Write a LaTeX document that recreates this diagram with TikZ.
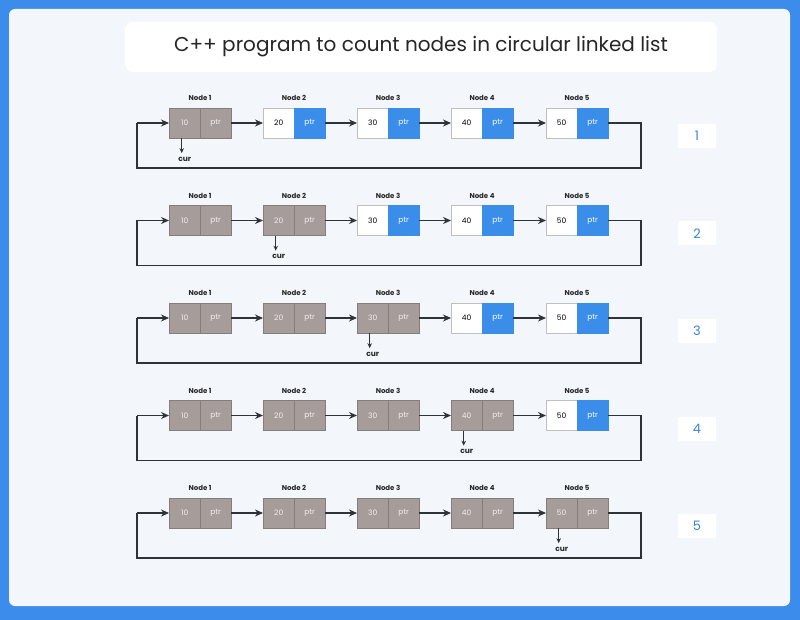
\documentclass[tikz,border=0pt]{standalone}
\usepackage{fontspec}
\setmainfont{Poppins}
\usetikzlibrary{arrows.meta}
\definecolor{frame}{HTML}{3B8CEB}
\definecolor{panel}{HTML}{F3F6FB}
\definecolor{graycell}{HTML}{A69C99}
\definecolor{bluecell}{HTML}{3A8DE8}
\definecolor{linec}{HTML}{2E3338}
\definecolor{numc}{HTML}{3A86D0}
\tikzset{
  cell/.style={minimum width=31pt,minimum height=30pt,inner sep=0pt,font=\fontsize{7.5}{8}\selectfont},
  wcell/.style={cell,fill=white,draw=black!25,text=black},
  gcell/.style={cell,fill=graycell,draw=graycell!80!black,text=white!85!graycell},
  bcell/.style={cell,fill=bluecell,draw=bluecell,text=white},
  lbl/.style={font=\fontsize{7}{8}\selectfont\bfseries,text=black!85},
  conn/.style={draw=linec,line width=1.1pt,-{Stealth[length=8pt,width=7pt]}},
  loopl/.style={draw=linec,line width=1.1pt},
  numbox/.style={fill=white,minimum width=38pt,minimum height=24pt,font=\fontsize{13}{14}\selectfont,text=numc},
}
\begin{document}
\begin{tikzpicture}[x=1pt,y=-1pt]
\useasboundingbox (0,0) rectangle (800,620);
\fill[frame] (0,0) rectangle (800,620);
\fill[panel,rounded corners=6pt] (9,9) rectangle (790,606);
\node[fill=white,rounded corners=8pt,minimum width=592pt,minimum height=50pt,font=\fontsize{20}{22}\selectfont,text=black!85] (title) at (421,47) {C++ program to count nodes in circular linked list};
\foreach \r in {0,...,4}{
  \pgfmathsetmacro{\yc}{123+\r*97.5}
  \foreach \i/\v/\xl in {1/10/169,2/20/263,3/30/357,4/40/451,5/50/546}{
    \pgfmathtruncatemacro{\g}{\i<=\r+1 ? 1 : 0}
    \ifnum\g=1
      \node[gcell,anchor=west] (d\r\i) at (\xl,\yc) {\v};
      \node[gcell,anchor=west] (p\r\i) at (\xl+31,\yc) {ptr};
    \else
      \node[wcell,anchor=west] (d\r\i) at (\xl,\yc) {\v};
      \node[bcell,anchor=west] (p\r\i) at (\xl+31,\yc) {ptr};
    \fi
    \node[lbl] (l\r\i) at (\xl+31,\yc-25) {Node \i};
  }
  \foreach \a/\b in {1/2,2/3,3/4,4/5}{\path[conn] (p\r\a.east) -- (d\r\b.west);}
  \coordinate (rt\r) at (641,\yc);
  \coordinate (rb\r) at (641,\yc+45);
  \coordinate (lb\r) at (137,\yc+45);
  \coordinate (lt\r) at (137,\yc);
  \draw[loopl] (p\r5.east) -- (rt\r) -- (rb\r) -- (lb\r) -- (lt\r);
  \path[conn] (lt\r) -- (d\r1.west);
  \pgfmathtruncatemacro{\cn}{\r+1}
  \node[font=\fontsize{7.5}{8}\selectfont\bfseries,text=black!85] (cur\r) at ([xshift=0pt,yshift=-36pt]d\r\cn.center) {cur};
  \draw[draw=linec,line width=0.8pt,-{Stealth[length=5pt,width=4.5pt]}] ([xshift=-3pt]d\r\cn.south) -- ([xshift=-3pt,yshift=-15pt]d\r\cn.south);
  \node[numbox] (n\r) at (697,\yc+13) {\cn};
}
\end{tikzpicture}
\end{document}
